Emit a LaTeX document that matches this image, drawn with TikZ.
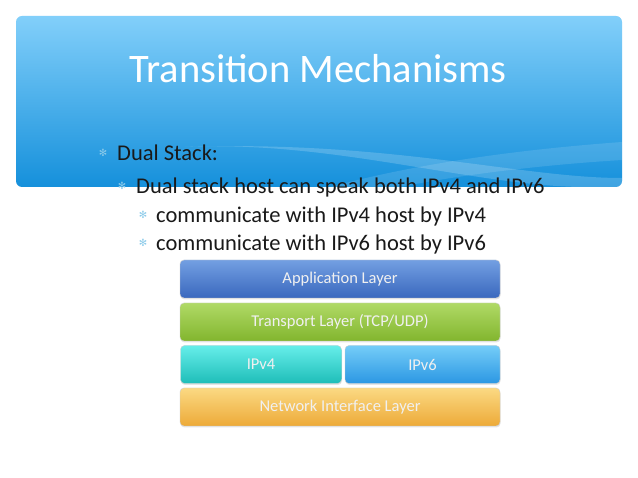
\documentclass[tikz,border=0pt]{standalone}
\usepackage{fontspec}
\setmainfont{Carlito}
\newfontfamily\symfont{DejaVu Sans}
\usetikzlibrary{shadows}
\definecolor{bannertop}{HTML}{82CFFA}
\definecolor{bannerbot}{HTML}{1590DB}
\definecolor{bulblue}{HTML}{8CCBEA}
\definecolor{apptop}{HTML}{739FE2}
\definecolor{appbot}{HTML}{3A68BE}
\definecolor{tltop}{HTML}{B0DA66}
\definecolor{tlbot}{HTML}{82B52E}
\definecolor{vfourtop}{HTML}{66EEEA}
\definecolor{vfourbot}{HTML}{1EBDB8}
\definecolor{vsixtop}{HTML}{75CDF8}
\definecolor{vsixbot}{HTML}{2B97E3}
\definecolor{niltop}{HTML}{FBD983}
\definecolor{nilbot}{HTML}{EDAA38}
\newcommand{\bul}{{\symfont\fontsize{10}{10}\selectfont\color{bulblue}✻}}

\begin{document}
\begin{tikzpicture}[x=1pt,y=-1pt,
  layer/.style={draw=white!80!black,rounded corners=4pt,minimum height=38pt,inner sep=0pt,
    text=white!94!black,font=\fontsize{16.5}{18}\selectfont,
    drop shadow={opacity=0.2,shadow xshift=0.5pt,shadow yshift=-1.5pt}},
  line/.style={anchor=base west,inner sep=0pt,text=black!90,font=\fontsize{22.5}{26}\selectfont}]
\useasboundingbox[fill=white] (0,0) rectangle (638,478);
\path[top color=bannertop,bottom color=bannerbot,rounded corners=6pt] (16,16) rectangle (622,187);
\fill[white,opacity=0.18] (185,147) .. controls (330,140) and (470,185) .. (580,187)
  -- (622,187) -- (622,178) .. controls (520,178) and (390,140) .. (185,147);
\fill[white,opacity=0.12] (330,187) .. controls (430,160) and (540,148) .. (622,142)
  -- (622,160) .. controls (540,165) and (460,175) .. (400,187) -- cycle;
\node[anchor=base,inner sep=0pt,text=white,font=\fontsize{40.5}{44}\selectfont] (title) at (318,83) {Transition Mechanisms};

\node[line] (l1) at (117,161) {Dual Stack:};
\node[line] (l2) at (136,194) {Dual stack host can speak both IPv4 and IPv6};
\node[line] (l3) at (156,223) {communicate with IPv4 host by IPv4};
\node[line] (l4) at (156,251) {communicate with IPv6 host by IPv6};
\node[anchor=base] (b1) at (103,157) {\bul};
\node[anchor=base] (b2) at (122,190) {\bul};
\node[anchor=base] (b3) at (143,219) {\bul};
\node[anchor=base] (b4) at (143,247) {\bul};

\node[layer,minimum width=320pt,top color=apptop,bottom color=appbot] (app) at (340,279) {Application Layer};
\node[layer,minimum width=320pt,top color=tltop,bottom color=tlbot] (tl) at (340,322) {Transport Layer (TCP/UDP)};
\node[layer,minimum width=161pt,top color=vfourtop,bottom color=vfourbot] (v4) at (261,364.5) {IPv4};
\node[layer,minimum width=155pt,top color=vsixtop,bottom color=vsixbot] (v6) at (422.5,364.5) {IPv6};
\node[layer,minimum width=320pt,top color=niltop,bottom color=nilbot] (nil) at (340,407) {Network Interface Layer};
\end{tikzpicture}
\end{document}
